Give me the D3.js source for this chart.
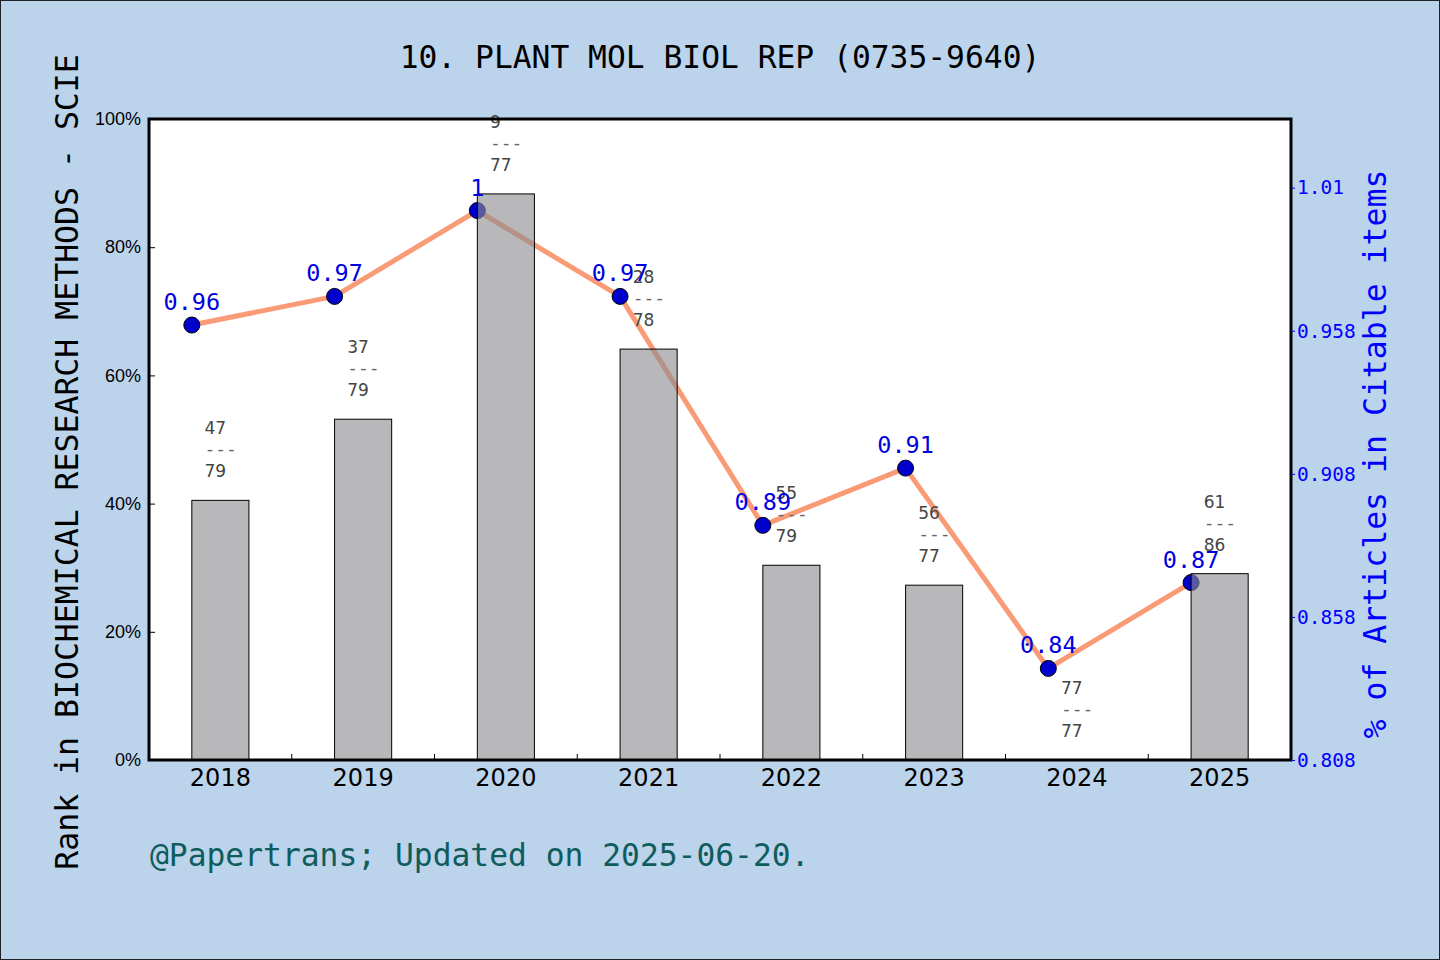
<!DOCTYPE html>
<html><head><meta charset="utf-8">
<script src="https://cdn.jsdelivr.net/npm/d3@7"></script>
<style>
html,body{margin:0;padding:0;background:#bcd3ec;}
svg{display:block;}
</style></head>
<body>
<svg id="c" width="1440" height="960"></svg>
<script>
const years = ["2018","2019","2020","2021","2022","2023","2024","2025"];
const ranks = [47,37,9,28,55,56,77,61];
const totals = [79,79,77,78,79,77,77,86];
const citable = [0.96,0.97,1,0.97,0.89,0.91,0.84,0.87];
const citableLabels = ["0.96","0.97","1","0.97","0.89","0.91","0.84","0.87"];
const leftTicks = [0,0.2,0.4,0.6,0.8,1.0];
const rightTicks = [0.808,0.858,0.908,0.958,1.008];

const W=1440,H=960;
const L=149,R=1291,T=119,B=760;
const svg=d3.select("#c");
const mono='"DejaVu Sans Mono","Liberation Mono",monospace';
const sans='"DejaVu Sans","Verdana",sans-serif';
const arial='"Liberation Sans","Arial",sans-serif';

svg.append("rect").attr("x",0.5).attr("y",0.5).attr("width",W-1).attr("height",H-1)
  .attr("fill","#bcd3ec").attr("stroke","#222").attr("stroke-width",1);
svg.append("rect").attr("x",L).attr("y",T).attr("width",R-L).attr("height",B-T).attr("fill","#fff");

const xb=d3.scaleBand().domain(years).range([L,R]).paddingInner(0).paddingOuter(0);
const step=xb.bandwidth();
const barW=step*0.4;
const xc=d=>xb(d)+step/2;
const y=d3.scaleLinear().domain([0,1]).range([B,T]);
const y2=d3.scaleLinear().domain([0.808,1.032]).range([B,T]);

const data=years.map((yr,i)=>({yr,rank:ranks[i],total:totals[i],v:(totals[i]-ranks[i])/totals[i],c:citable[i],cl:citableLabels[i]}));

// line
const line=d3.line().x(d=>xc(d.yr)-barW/2).y(d=>y2(d.c));
svg.append("path").datum(data).attr("d",line).attr("fill","none")
  .attr("stroke","#fa9b78").attr("stroke-width",5).attr("stroke-linejoin","round");
svg.selectAll("circle.pt").data(data).join("circle").attr("class","pt")
  .attr("cx",d=>xc(d.yr)-barW/2).attr("cy",d=>y2(d.c)).attr("r",8)
  .attr("fill","#0000cd").attr("stroke","#000").attr("stroke-width",1);

// bars
svg.selectAll("rect.bar").data(data).join("rect").attr("class","bar")
  .attr("x",d=>xc(d.yr)-barW/2).attr("width",barW)
  .attr("y",d=>y(d.v)).attr("height",d=>B-y(d.v))
  .attr("fill","rgba(140,141,143,0.62)").attr("stroke","#000").attr("stroke-width",1);

// bar labels
const bl=svg.selectAll("g.bl").data(data).join("g").attr("class","bl")
  .attr("transform",d=>`translate(${xc(d.yr)-16},${y(d.v)})`);
bl.append("text").attr("y",-66).text(d=>d.rank).attr("font-family",sans).attr("font-size",17).attr("fill","#444");
bl.append("text").attr("y",-45).text("---").attr("font-family",mono).attr("font-size",18).attr("fill","#666");
bl.append("text").attr("y",-23).text(d=>d.total).attr("font-family",sans).attr("font-size",17).attr("fill","#444");

// point labels
svg.selectAll("text.pl").data(data).join("text").attr("class","pl")
  .attr("x",d=>xc(d.yr)-barW/2).attr("y",d=>y2(d.c)-15).attr("text-anchor","middle")
  .attr("font-family",mono).attr("font-size",23.5).attr("fill","#0000e0").text(d=>d.cl);

// frame
svg.append("rect").attr("x",L).attr("y",T).attr("width",R-L).attr("height",B-T)
  .attr("fill","none").attr("stroke","#000").attr("stroke-width",3);

// left axis
const ga=svg.append("g").attr("transform",`translate(${L},0)`)
  .call(d3.axisLeft(y).tickValues(leftTicks).tickSize(-6).tickPadding(8).tickFormat(d3.format(".0%")));
ga.select(".domain").remove();
ga.selectAll("text").attr("font-family",arial).attr("font-size",18).attr("fill","#000");
ga.selectAll("line").attr("stroke","#000");

// right axis
const gr=svg.append("g").attr("transform",`translate(${R},0)`)
  .call(d3.axisRight(y2).tickValues(rightTicks).tickSize(4).tickPadding(2).tickFormat(d=>d3.format(".3~r")(d)));
gr.select(".domain").remove();
gr.selectAll("text").attr("font-family",mono).attr("font-size",19.5).attr("fill","#0000ff");
gr.selectAll("line").attr("stroke","#0000ff");

// bottom axis
const gb=svg.append("g").attr("transform",`translate(0,${B})`)
  .call(d3.axisBottom(xb).tickSize(0).tickPadding(9));
gb.select(".domain").remove();
gb.selectAll("text").attr("font-family",sans).attr("font-size",24).attr("fill","#000");
svg.append("g").selectAll("line").data(years.slice(1)).join("line")
  .attr("x1",d=>xb(d)).attr("x2",d=>xb(d)).attr("y1",B).attr("y2",B-6).attr("stroke","#000");

// titles
svg.append("text").attr("x",720).attr("y",68).attr("text-anchor","middle")
  .attr("font-family",mono).attr("font-size",31.3).attr("fill","#000")
  .text("10. PLANT MOL BIOL REP (0735-9640)");
svg.append("text").attr("transform","translate(78,462) rotate(-90)").attr("text-anchor","middle")
  .attr("font-family",mono).attr("font-size",31.5).attr("fill","#000")
  .text("Rank in BIOCHEMICAL RESEARCH METHODS - SCIE");
svg.append("text").attr("transform","translate(1386,454) rotate(-90)").attr("text-anchor","middle")
  .attr("font-family",mono).attr("font-size",31.5).attr("fill","#0000ff")
  .text("% of Articles in Citable items");
svg.append("text").attr("x",150).attr("y",866)
  .attr("font-family",mono).attr("font-size",31.3).attr("fill","#0f5c5c")
  .text("@Papertrans; Updated on 2025-06-20.");
</script>
</body></html>
